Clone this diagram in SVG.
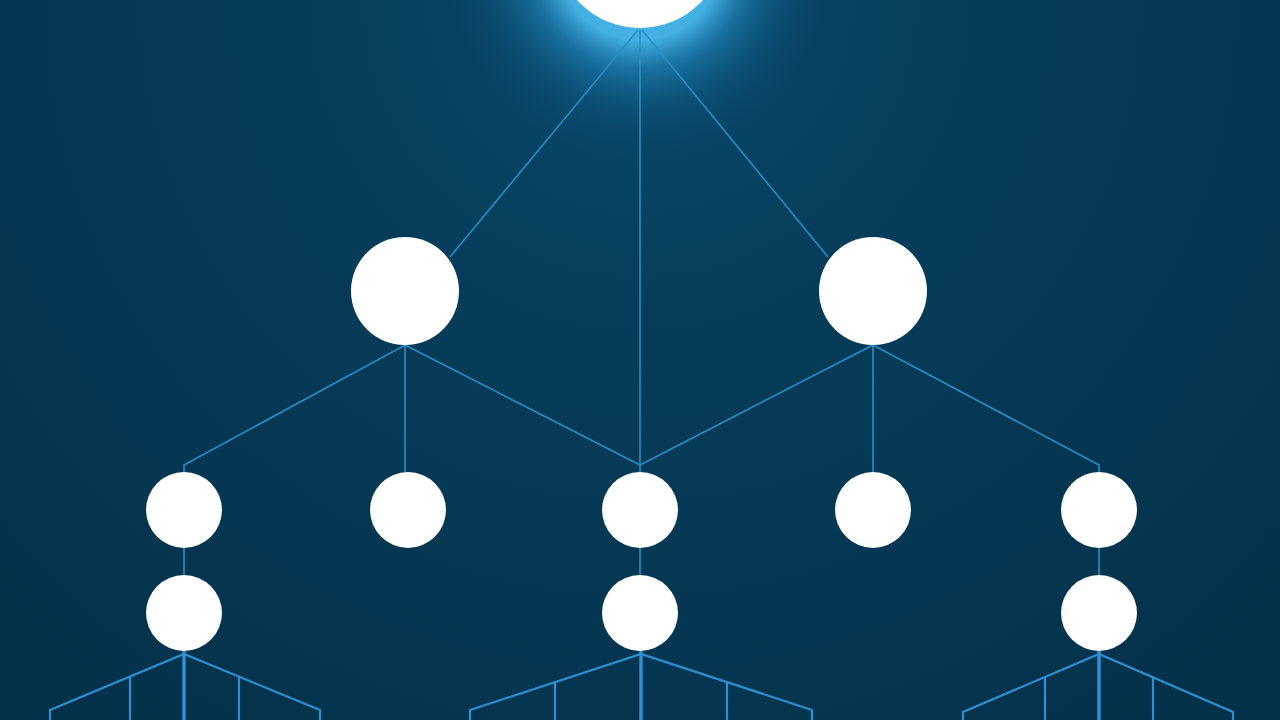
<svg xmlns="http://www.w3.org/2000/svg" width="1280" height="720" viewBox="0 0 1280 720">
<defs>
<radialGradient id="bg" cx="640" cy="0" r="900" gradientUnits="userSpaceOnUse">
<stop offset="0" stop-color="#0a4a6e"/>
<stop offset="0.35" stop-color="#073d5a"/>
<stop offset="1" stop-color="#04314a"/>
</radialGradient>
<radialGradient id="glow" cx="640" cy="-40" r="200" gradientUnits="userSpaceOnUse">
<stop offset="0.4" stop-color="#4fc3f7" stop-opacity="0.85"/>
<stop offset="0.55" stop-color="#2a9ad6" stop-opacity="0.5"/>
<stop offset="0.75" stop-color="#1578b0" stop-opacity="0.18"/>
<stop offset="1" stop-color="#0b4a70" stop-opacity="0"/>
</radialGradient>
<style>
.node{fill:#ffffff}
.ln{stroke:#2590c8;stroke-width:1.6;fill:none}
.fan{stroke:#2f8fd2;stroke-width:2.2;fill:none}
.fanc{stroke:#2f8fd2;stroke-width:3.5;fill:none}
</style>
</defs>
<rect width="1280" height="720" fill="url(#bg)"/>
<rect width="1280" height="300" fill="url(#glow)"/>
<g id="connectors">
<line class="ln" x1="638" y1="30" x2="450" y2="257"/>
<line class="ln" x1="642" y1="30" x2="828" y2="257"/>
<line class="ln" x1="640" y1="30" x2="640" y2="472"/>
<polyline class="ln" points="184,472 184,465 405,345 405,472"/>
<line class="ln" x1="405" y1="345" x2="640" y2="465"/>
<polyline class="ln" points="1099,472 1099,465 873,345 873,472"/>
<line class="ln" x1="873" y1="345" x2="640" y2="465"/>
<line class="ln" x1="184" y1="548" x2="184" y2="575"/>
<line class="ln" x1="640" y1="548" x2="640" y2="575"/>
<line class="ln" x1="1099" y1="548" x2="1099" y2="575"/>
<polyline class="fan" points="50,720 50,710 184,654 320,710 320,720"/>
<line class="fan" x1="130" y1="677" x2="130" y2="720"/>
<line class="fan" x1="239" y1="677" x2="239" y2="720"/>
<line class="fanc" x1="184" y1="651" x2="184" y2="720"/>
<polyline class="fan" points="470,720 470,710 641,654 812,710 812,720"/>
<line class="fan" x1="555" y1="683" x2="555" y2="720"/>
<line class="fan" x1="727" y1="683" x2="727" y2="720"/>
<line class="fanc" x1="641" y1="651" x2="641" y2="720"/>
<polyline class="fan" points="963,720 963,712 1099,654 1233,712 1233,720"/>
<line class="fan" x1="1045" y1="677" x2="1045" y2="720"/>
<line class="fan" x1="1153" y1="677" x2="1153" y2="720"/>
<line class="fanc" x1="1099" y1="651" x2="1099" y2="720"/>
</g>
<g id="root"><circle class="node" cx="640" cy="-57" r="85"/></g>
<g id="mid-left"><circle class="node" cx="405" cy="291" r="54"/></g>
<g id="mid-right"><circle class="node" cx="873" cy="291" r="54"/></g>
<g id="l3-1"><circle class="node" cx="184" cy="510" r="38"/></g>
<g id="l3-2"><circle class="node" cx="408" cy="510" r="38"/></g>
<g id="l3-3"><circle class="node" cx="640" cy="510" r="38"/></g>
<g id="l3-4"><circle class="node" cx="873" cy="510" r="38"/></g>
<g id="l3-5"><circle class="node" cx="1099" cy="510" r="38"/></g>
<g id="l4-1"><circle class="node" cx="184" cy="613" r="38"/></g>
<g id="l4-2"><circle class="node" cx="640" cy="613" r="38"/></g>
<g id="l4-3"><circle class="node" cx="1099" cy="613" r="38"/></g>
</svg>
